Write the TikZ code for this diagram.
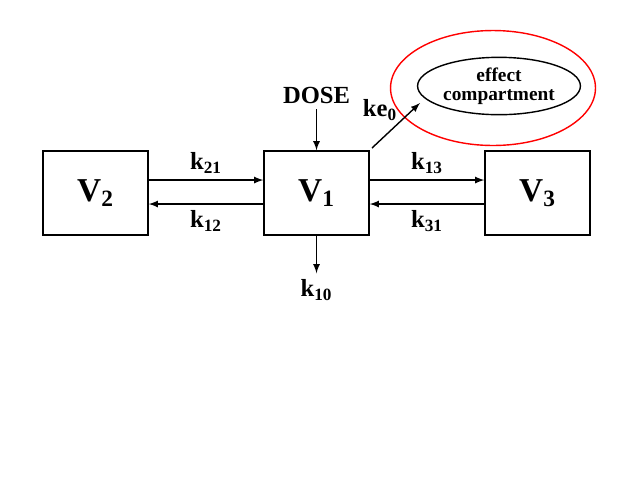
\documentclass[tikz,border=0pt]{standalone}
\usepackage{fontspec}
\setmainfont{Liberation Serif}
\usetikzlibrary{shapes.geometric}
\tikzset{
  comp/.style={draw,thick,minimum width=2.1cm,minimum height=1.68cm,font=\bfseries\fontsize{19}{21}\selectfont},
  rate/.style={font=\bfseries\fontsize{14}{16}\selectfont},
  flow/.style={thick,-latex}
}
\begin{document}
\begin{tikzpicture}[x=0.02cm,y=-0.02cm]
\useasboundingbox (0,0) rectangle (638,478);
\node[comp] (v2) at (95.5,193) {V\textsubscript{2}};
\node[comp] (v1) at (316.5,193) {V\textsubscript{1}};
\node[comp] (v3) at (537.5,193) {V\textsubscript{3}};
% rates
\draw[flow] ([yshift=0.26cm]v2.east) -- node[rate,above] {k\textsubscript{21}} ([yshift=0.26cm]v1.west);
\draw[flow] ([yshift=-0.22cm]v1.west) -- node[rate,below] {k\textsubscript{12}} ([yshift=-0.22cm]v2.east);
\draw[flow] ([yshift=0.26cm]v1.east) -- node[rate,above] {k\textsubscript{13}} ([yshift=0.26cm]v3.west);
\draw[flow] ([yshift=-0.22cm]v3.west) -- node[rate,below] {k\textsubscript{31}} ([yshift=-0.22cm]v1.east);
\node[rate] (dose) at (316.5,95) {DOSE};
\draw[flow] (dose) -- (v1.north);
\node[rate] (k10) at (316.5,290) {k\textsubscript{10}};
\draw[flow] (v1.south) -- (v1.south |- k10.north);
% effect compartment
\node[draw,thick,ellipse,minimum width=2.9cm,minimum height=0.85cm,align=center,
  font=\bfseries\fontsize{11}{11}\selectfont,inner sep=1pt] (eff) at (499,86) {effect\\compartment};
\node[draw=red,thick,ellipse,minimum width=4.1cm,minimum height=2.3cm] (ring) at (493,88) {};
\coordinate (ke) at (372,148);
\draw[flow] (ke) -- (420,103) coordinate (ketip);
\node[rate] (kelab) at (380,110) {ke\textsubscript{0}};
\end{tikzpicture}
\end{document}
